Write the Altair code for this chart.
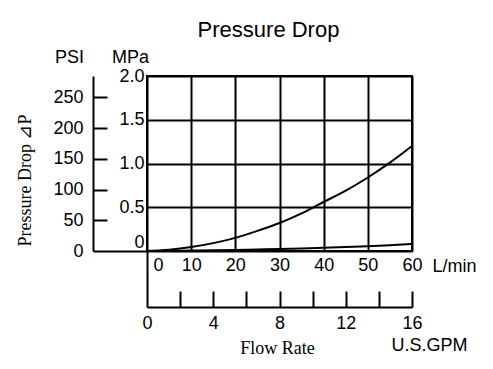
import altair as alt
import pandas as pd

# ---- data ----
flow_lpm = [0, 5, 10, 15, 20, 25, 30, 35, 40, 45, 50, 55, 60]
curve_upper_mpa = [0, 0.015, 0.045, 0.09, 0.15, 0.23, 0.32, 0.43, 0.56, 0.69, 0.84, 1.01, 1.2]
curve_lower_mpa = [0, 0.002, 0.005, 0.008, 0.012, 0.017, 0.022, 0.028, 0.036, 0.045, 0.055, 0.067, 0.08]

lpm_ticks = [0, 10, 20, 30, 40, 50, 60]
mpa_ticks = [0, 0.5, 1.0, 1.5, 2.0]
psi_ticks = [0, 50, 100, 150, 200, 250]
gpm_ticks = [0, 2, 4, 6, 8, 10, 12, 14, 16]
gpm_labels = [0, 4, 8, 12, 16]

FONT = "Liberation Sans"
SERIF = "Liberation Serif"
IS_ZERO = "datum.value === 0"
FS = 18

curves = pd.DataFrame({
    "flow": flow_lpm * 2,
    "mpa": curve_upper_mpa + curve_lower_mpa,
    "curve": ["upper"] * len(flow_lpm) + ["lower"] * len(flow_lpm),
})

main = alt.Chart(curves).mark_line(color="black", strokeWidth=2, interpolate="monotone").encode(
    x=alt.X("flow:Q", scale=alt.Scale(domain=[0, 60], nice=False),
            axis=alt.Axis(values=lpm_ticks, grid=True, gridColor="black", gridWidth=2, gridOpacity=1,
                          ticks=False, domain=False, labelPadding=5, labelFlush=False, labelOverlap=False,
                          labelBaseline="top",
                          labelOffset={"condition": {"test": IS_ZERO, "value": 11}, "value": 0},
                          title="L/min", titleX=285, titleY=15, titleAlign="left", titleBaseline="middle")),
    y=alt.Y("mpa:Q", scale=alt.Scale(domain=[0, 2], nice=False),
            axis=alt.Axis(values=mpa_ticks, grid=True, gridColor="black", gridWidth=2, gridOpacity=1,
                          ticks=False, domain=False, labelPadding=3, labelOverlap=False,
                          labelExpr="datum.value === 0 ? '0' : format(datum.value, '.1f')",
                          labelBaseline={"condition": {"test": IS_ZERO, "value": "bottom"}, "value": "middle"},
                          title="MPa", titleX=-17, titleY=-19, titleAngle=0,
                          titleAlign="center", titleBaseline="middle")),
    detail="curve:N",
)

psi_df = pd.DataFrame({"psi": psi_ticks, "fr": [0] * len(psi_ticks)})
psi_layer = alt.Chart(psi_df).mark_point(opacity=0).encode(
    y=alt.Y("psi:Q", scale=alt.Scale(domain=[0, 285], nice=False),
            axis=alt.Axis(orient="right", offset=-319, values=psi_ticks, grid=False,
                          domain=True, domainColor="black", domainWidth=2,
                          ticks=True, tickColor="black", tickWidth=2,
                          tickSize={"condition": {"test": IS_ZERO, "value": 54}, "value": 14},
                          labelPadding={"condition": {"test": IS_ZERO, "value": -64}, "value": -24},
                          labelAlign="right", labelBaseline="middle", labelOverlap=False,
                          title="PSI", titleX=-24, titleY=-19, titleAngle=0,
                          titleAlign="center", titleBaseline="middle")),
    x=alt.X("fr:Q", scale=alt.Scale(domain=[0, 1]),
            axis=alt.Axis(orient="bottom", title="Flow Rate", domain=False, ticks=False, labels=False,
                          grid=False, titleX=130, titleY=97, titleFont=SERIF, titleFontSize=18,
                          titleAlign="center", titleBaseline="middle")),
)

gpm_df = pd.DataFrame({"gpm": gpm_ticks, "pd": [0] * len(gpm_ticks)})
gpm_layer = alt.Chart(gpm_df).mark_point(opacity=0).encode(
    x=alt.X("gpm:Q", scale=alt.Scale(domain=[0, 16], nice=False),
            axis=alt.Axis(orient="top", offset=-231, values=gpm_ticks, grid=False,
                          domain=True, domainColor="black", domainWidth=2,
                          ticks=True, tickColor="black", tickWidth=2,
                          tickSize={"condition": {"test": IS_ZERO, "value": 56}, "value": 16},
                          labelPadding={"condition": {"test": IS_ZERO, "value": -72}, "value": -32},
                          labelExpr="indexof(%s, datum.value) >= 0 ? datum.label : ''" % str(gpm_labels),
                          labelBaseline="middle", labelFlush=False, labelOverlap=False,
                          title="U.S.GPM", titleX=282, titleY=38, titleAlign="center",
                          titleBaseline="middle")),
    y=alt.Y("pd:Q", scale=alt.Scale(domain=[0, 1]),
            axis=alt.Axis(orient="left", title="Pressure Drop  ⊿P", domain=False, ticks=False,
                          labels=False, grid=False, titleX=-122, titleY=104, titleAngle=270,
                          titleFont=SERIF, titleFontSize=18, titleAlign="center",
                          titleBaseline="middle")),
)

chart = alt.layer(main, psi_layer, gpm_layer).resolve_scale(
    x="independent", y="independent"
).properties(
    width=265, height=175,
    title=alt.Title("Pressure Drop", font=FONT, fontSize=22, fontWeight="normal", color="black",
                    anchor="middle", frame="group", dx=-11, offset=6),
    autosize=alt.AutoSizeParams(type="none"),
    padding={"left": 139, "top": 68, "right": 73, "bottom": 110},
).configure_view(
    stroke="black", strokeWidth=2
).configure_axis(
    labelFont=FONT, labelFontSize=FS, labelColor="black",
    titleFont=FONT, titleFontSize=FS, titleColor="black", titleFontWeight="normal",
)

chart.save("out.html", embed_options={"renderer": "svg", "actions": False})
